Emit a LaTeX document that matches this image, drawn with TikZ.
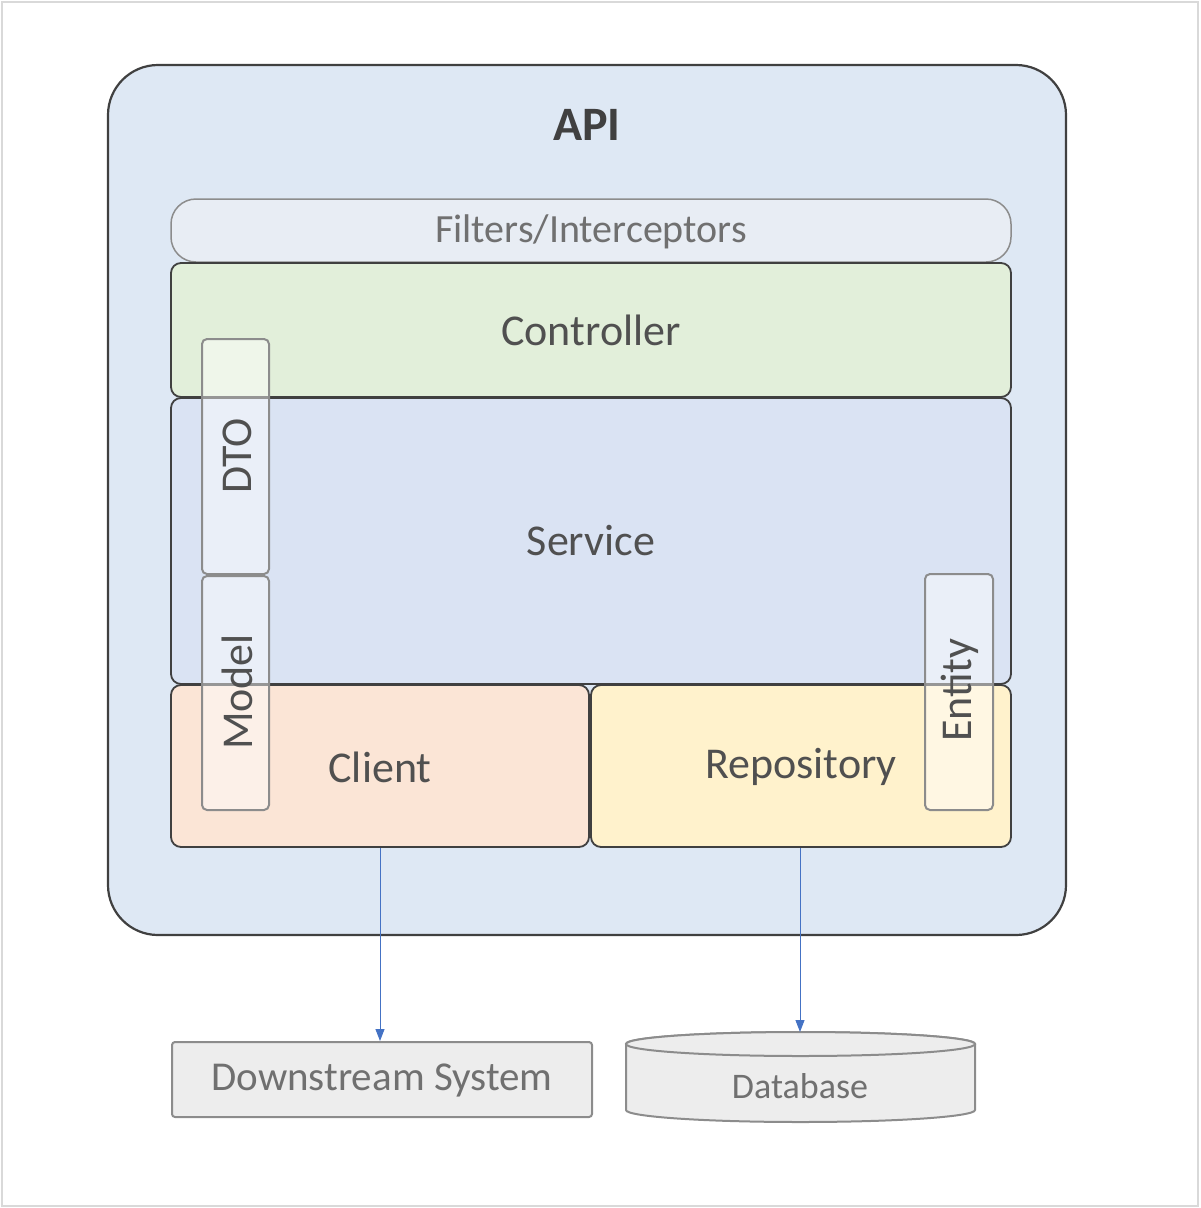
\documentclass[tikz,border=0pt]{standalone}
\usepackage{fontspec}
\setmainfont{Carlito}
\usetikzlibrary{arrows.meta}
\definecolor{apifill}{HTML}{DEE8F4}
\definecolor{filtfill}{HTML}{E8EDF4}
\definecolor{ctrlfill}{HTML}{E2EFDA}
\definecolor{svcfill}{HTML}{DAE3F3}
\definecolor{clifill}{HTML}{FBE5D6}
\definecolor{repofill}{HTML}{FFF2CC}
\definecolor{grayfill}{HTML}{EDEDED}
\definecolor{dark}{HTML}{404040}
\definecolor{txt}{HTML}{505050}
\definecolor{gtxt}{HTML}{707070}
\definecolor{gline}{HTML}{8C8C8C}
\definecolor{blu}{HTML}{4472C4}
\tikzset{
 layer/.style={draw=dark,line width=1.8pt,rounded corners=10pt},
 tag/.style={draw=gline,line width=2pt,rounded corners=5pt,fill=white,fill opacity=0.45,text opacity=1},
 conn/.style={blu,line width=1pt,-{Triangle[length=12pt,width=9pt]}},
 lbl/.style={text=txt,font=\fontsize{44}{48}\selectfont}
}
\begin{document}
\begin{tikzpicture}[x=1pt,y=-1pt]
\useasboundingbox (0,0) rectangle (1200,1208);
\draw[draw=black!15,line width=2pt] (2,2) rectangle (1198,1206);
\draw[layer,fill=apifill,rounded corners=50pt,line width=2.2pt] (108,65) rectangle (1066,935);
\node[font=\bfseries\fontsize{48}{52}\selectfont,text=dark] (api) at (587,125) {API};
\draw[draw=gline,line width=1.5pt,fill=filtfill,rounded corners=25pt] (171,199) rectangle (1011,262);
\node[text=gtxt,font=\fontsize{40}{44}\selectfont] (filt) at (591,232) {Filters/Interceptors};
\draw[layer,fill=ctrlfill] (171,263) rectangle (1011,397);
\node[lbl] (ctrl) at (591,330) {Controller};
\draw[layer,fill=svcfill] (171,398) rectangle (1011,684);
\node[lbl] (svc) at (591,541) {Service};
\draw[layer,fill=clifill] (171,685) rectangle (589,847);
\node[lbl] (cli) at (380,767) {Client};
\draw[layer,fill=repofill] (591,685) rectangle (1011,847);
\node[lbl] (repo) at (801,767) {Repository};
\draw[tag] (202,339) rectangle (269,574);
\node[lbl,rotate=90] (dto) at (237,456) {DTO};
\draw[tag] (202,576) rectangle (269,810);
\node[lbl,rotate=90] (model) at (237,692) {Model};
\draw[tag] (925,574) rectangle (993,810);
\node[lbl,rotate=90] (ent) at (960,690) {Entity};
\draw[draw=gline,line width=2pt,fill=grayfill,rounded corners=3pt] (172,1042) rectangle (592,1117);
\node[text=gtxt,font=\fontsize{41}{45}\selectfont] (down) at (382,1080) {Downstream System};
\draw[draw=gline,line width=2pt,fill=grayfill] (626,1044) -- (626,1110) arc[start angle=180,end angle=0,x radius=174.5,y radius=12] -- (975,1044) arc[start angle=0,end angle=-180,x radius=174.5,y radius=12] -- cycle;
\draw[draw=gline,line width=2pt,fill=grayfill] (800.5,1044) ellipse[x radius=174.5,y radius=12];
\node[text=gtxt,font=\fontsize{36}{40}\selectfont] (db) at (800,1086) {Database};
\coordinate (a1) at (380,848); \coordinate (b1) at (380,1041);
\coordinate (a2) at (800,848); \coordinate (b2) at (800,1032);
\draw[conn] (a1) -- (b1);
\draw[conn] (a2) -- (b2);
\end{tikzpicture}
\end{document}
